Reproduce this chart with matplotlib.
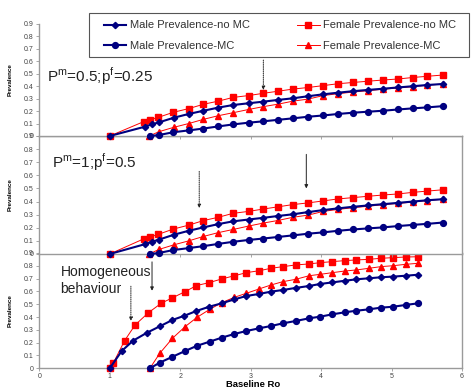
import matplotlib
matplotlib.use("Agg")
import matplotlib.pyplot as plt
from matplotlib.patches import Rectangle

# ---- data ----
# heterogeneous panels (top and middle share the same curves)
male_nomc_x = [1.0, 1.50, 1.60, 1.70, 1.91, 2.12, 2.33, 2.54, 2.75, 2.97, 3.18, 3.39,
               3.60, 3.82, 4.03, 4.24, 4.45, 4.66, 4.88, 5.09, 5.30, 5.51, 5.73]
male_nomc_y = [0, 0.075, 0.094, 0.11, 0.147, 0.177, 0.203, 0.228, 0.249, 0.263, 0.276, 0.29,
               0.303, 0.32, 0.335, 0.348, 0.36, 0.37, 0.38, 0.39, 0.40, 0.41, 0.418]

female_nomc_x = [1.0, 1.48, 1.57, 1.69, 1.90, 2.12, 2.33, 2.54, 2.75, 2.97, 3.18, 3.39,
                 3.60, 3.82, 4.03, 4.24, 4.45, 4.66, 4.88, 5.09, 5.30, 5.51, 5.73]
female_nomc_y = [0, 0.115, 0.13, 0.15, 0.19, 0.22, 0.255, 0.28, 0.31, 0.325, 0.343, 0.36,
                 0.377, 0.39, 0.405, 0.42, 0.43, 0.44, 0.45, 0.458, 0.47, 0.48, 0.49]

male_mc_x = [1.57, 1.70, 1.90, 2.12, 2.33, 2.54, 2.75, 2.97, 3.18, 3.39, 3.60,
             3.82, 4.03, 4.24, 4.45, 4.66, 4.88, 5.09, 5.30, 5.51, 5.73]
male_mc_y = [0, 0.008, 0.03, 0.045, 0.06, 0.077, 0.093, 0.107, 0.118, 0.13, 0.142,
             0.155, 0.165, 0.177, 0.187, 0.195, 0.203, 0.213, 0.222, 0.23, 0.24]

female_mc_x = [1.56, 1.70, 1.91, 2.12, 2.33, 2.54, 2.75, 2.97, 3.18, 3.39, 3.60,
               3.82, 4.03, 4.24, 4.45, 4.66, 4.88, 5.09, 5.30, 5.51, 5.73]
female_mc_y = [0, 0.035, 0.07, 0.10, 0.134, 0.163, 0.187, 0.213, 0.236, 0.256, 0.28,
               0.297, 0.325, 0.34, 0.353, 0.364, 0.376, 0.386, 0.396, 0.408, 0.418]

# homogeneous panel (bottom)
hom_male_nomc_x = [1.0, 1.17, 1.33, 1.53, 1.72, 1.89, 2.06, 2.23, 2.41, 2.59, 2.77, 2.94, 3.12,
                   3.29, 3.46, 3.64, 3.83, 3.99, 4.16, 4.34, 4.50, 4.68, 4.85, 5.02, 5.20, 5.38]
hom_male_nomc_y = [0, 0.135, 0.215, 0.278, 0.33, 0.377, 0.41, 0.447, 0.48, 0.507, 0.538, 0.564, 0.58,
                   0.598, 0.611, 0.627, 0.642, 0.658, 0.67, 0.683, 0.694, 0.702, 0.71, 0.715, 0.722, 0.73]

hom_female_nomc_x = [1.0, 1.05, 1.21, 1.36, 1.55, 1.73, 1.89, 2.07, 2.23, 2.41, 2.59, 2.77, 2.94, 3.12,
                     3.29, 3.46, 3.64, 3.83, 3.99, 4.16, 4.34, 4.50, 4.68, 4.85, 5.02, 5.20, 5.38]
hom_female_nomc_y = [0, 0.04, 0.215, 0.338, 0.434, 0.507, 0.55, 0.598, 0.645, 0.668, 0.697, 0.722, 0.746,
                     0.761, 0.78, 0.793, 0.806, 0.814, 0.824, 0.832, 0.84, 0.845, 0.85, 0.858, 0.863,
                     0.868, 0.87]

hom_mc_x = [1.57, 1.71, 1.89, 2.07, 2.24, 2.42, 2.59, 2.77, 2.94, 3.12, 3.29, 3.46,
            3.64, 3.83, 3.99, 4.16, 4.34, 4.50, 4.68, 4.85, 5.02, 5.20, 5.38]
hom_male_mc_y = [0, 0.044, 0.09, 0.135, 0.176, 0.208, 0.239, 0.268, 0.291, 0.312, 0.33, 0.351,
                 0.369, 0.39, 0.403, 0.421, 0.437, 0.449, 0.46, 0.473, 0.48, 0.494, 0.507]
hom_female_mc_y = [0, 0.117, 0.234, 0.325, 0.398, 0.46, 0.512, 0.554, 0.585, 0.619, 0.65, 0.676,
                   0.694, 0.722, 0.733, 0.746, 0.759, 0.767, 0.78, 0.793, 0.80, 0.811, 0.819]

series_labels = ["Male Prevalence-no MC", "Male Prevalence-MC",
                 "Female Prevalence-no MC", "Female Prevalence-MC"]
x_ticks = [0, 1, 2, 3, 4, 5, 6]
y_ticks = [0, 0.1, 0.2, 0.3, 0.4, 0.5, 0.6, 0.7, 0.8, 0.9]
y_tick_labels = ["0", "0.1", "0.2", "0.3", "0.4", "0.5", "0.6", "0.7", "0.8", "0.9"]

NAVY = "#000080"
RED = "#ff0000"
GRAY = "#9a9a9a"

plt.rcParams["font.family"] = "Liberation Sans"
plt.rcParams["mathtext.fontset"] = "custom"
plt.rcParams["mathtext.rm"] = "Liberation Sans"


def style_axes(ax, show_xlabels, frame):
    ax.set_xlim(0, 6)
    ax.set_ylim(0, 0.9)
    ax.set_xticks(x_ticks)
    ax.set_yticks(y_ticks)
    ax.set_yticklabels(y_tick_labels)
    if not show_xlabels:
        ax.set_xticklabels([])
    ax.tick_params(direction="out", length=2.5, width=0.6, color=GRAY,
                   labelsize=5, labelcolor="#444444", pad=1.5)
    ax.tick_params(axis="x", pad=1.0)
    for side in ["left", "bottom", "top", "right"]:
        ax.spines[side].set_color(GRAY)
        ax.spines[side].set_linewidth(1.0)
    if not frame:
        ax.spines["top"].set_visible(False)
        ax.spines["right"].set_visible(False)
    ax.set_ylabel("Prevalence", fontsize=4.5, fontweight="bold")
    ax.yaxis.set_label_coords(-0.064, 0.5)


def draw_series(ax, mnx, mny, mmx, mmy, fnx, fny, fmx, fmy):
    h1, = ax.plot(mnx, mny, color=NAVY, lw=1.5, marker="D", ms=3.2, clip_on=False, zorder=4)
    h2, = ax.plot(mmx, mmy, color=NAVY, lw=1.5, marker="o", ms=4.2, clip_on=False, zorder=4)
    h3, = ax.plot(fnx, fny, color=RED, lw=0.7, marker="s", ms=4.8, clip_on=False, zorder=3)
    h4, = ax.plot(fmx, fmy, color=RED, lw=0.7, marker="^", ms=5.0, clip_on=False, zorder=3)
    return [h1, h2, h3, h4]


def arrow(ax, x, y0, y1, dotted):
    ax.annotate("", xy=(x, y1), xytext=(x, y0),
                arrowprops=dict(arrowstyle="-|>", lw=0.7, color="#222222",
                                linestyle=(0, (1, 1.2)) if dotted else "-",
                                mutation_scale=5, shrinkA=0, shrinkB=0))


def main():
    fig = plt.figure(figsize=(4.74, 3.88), dpi=100)
    left = 39.3 / 474
    width = (462 - 39.3) / 474

    # bottom panel first so the upper panels sit on top of it
    ax3 = fig.add_axes([left, 1 - 368.3 / 388, width, 115.4 / 388])
    ax2 = fig.add_axes([left, 1 - 254 / 388, width, 118 / 388])
    ax1 = fig.add_axes([left, 1 - 136 / 388, width, 112 / 388])

    handles = draw_series(ax1, male_nomc_x, male_nomc_y, male_mc_x, male_mc_y,
                          female_nomc_x, female_nomc_y, female_mc_x, female_mc_y)
    draw_series(ax2, male_nomc_x, male_nomc_y, male_mc_x, male_mc_y,
                female_nomc_x, female_nomc_y, female_mc_x, female_mc_y)
    draw_series(ax3, hom_male_nomc_x, hom_male_nomc_y, hom_mc_x, hom_male_mc_y,
                hom_female_nomc_x, hom_female_nomc_y, hom_mc_x, hom_female_mc_y)

    style_axes(ax1, False, False)
    style_axes(ax2, False, True)
    style_axes(ax3, True, True)
    ax3.set_xlabel("Baseline Ro", fontsize=6.8, fontweight="bold", va="center")
    ax3.xaxis.set_label_coords(0.505, -0.14)

    # panel texts
    ax1.text(0.105, 0.48, r"P$^{\mathrm{m}}$=0.5;p$^{\mathrm{f}}$=0.25", fontsize=11,
             va="center", ha="left", color="#222222")
    ax2.text(0.185, 0.697, r"P$^{\mathrm{m}}$=1;p$^{\mathrm{f}}$=0.5", fontsize=11,
             va="center", ha="left", color="#222222")
    ax3.text(0.30, 0.685, "Homogeneous\nbehaviour", fontsize=10, va="center", ha="left",
             color="#222222", linespacing=1.2)

    # arrows
    arrow(ax1, 3.18, 0.61, 0.37, True)
    arrow(ax2, 2.27, 0.63, 0.35, True)
    arrow(ax2, 3.79, 0.76, 0.50, False)
    arrow(ax3, 1.30, 0.64, 0.37, True)
    arrow(ax3, 1.60, 0.83, 0.605, False)

    # legend with its own frame box
    fig.legend(handles, series_labels, ncol=2, loc="upper left",
               bbox_to_anchor=(104 / 474, 1 - 20.5 / 388), frameon=False,
               fontsize=8, handlelength=2.0, handletextpad=0.3, labelspacing=0.95,
               columnspacing=4.3, borderpad=0, borderaxespad=0, labelcolor="#333333")
    fig.patches.append(Rectangle((89 / 474, 1 - 57 / 388), 380 / 474, 44 / 388,
                                 transform=fig.transFigure, fill=False,
                                 ec="#555555", lw=0.8))

    fig.savefig("out.png", dpi=100)


if __name__ == "__main__":
    main()
